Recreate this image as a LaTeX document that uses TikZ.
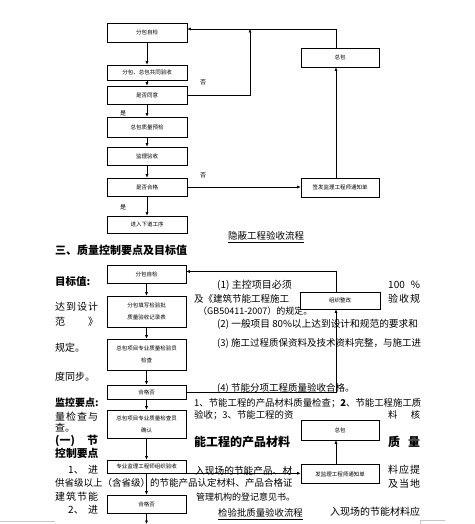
\documentclass[tikz,border=0pt]{standalone}
\usepackage{fontspec}
\setmainfont{Noto Sans CJK SC}
\usetikzlibrary{arrows.meta,calc}
\newcommand\myfs[1]{\fontsize{#1}{#1}\selectfont}
\begin{document}
\begin{tikzpicture}[x=1pt,y=-1pt,
  box/.style={draw=black, line width=0.6pt, fill=white, inner sep=0pt, align=center,
    font=\fontsize{5.5}{8}\selectfont, minimum width=80pt},
  conn/.style={draw=black, line width=0.6pt},
  arr/.style={conn, -{Latex[length=3.5pt,width=3pt]}},
  lbl/.style={inner sep=0pt, font=\myfs{6}},
  txt/.style={anchor=west, inner sep=0pt, font=\myfs{10}},
]
\useasboundingbox (0,0) rectangle (474,524);
\fill[white] (0,0) rectangle (474,524);

% ---------- texts ----------
\node[txt, font=\myfs{9.5}] (cap1) at (228,237) {\underline{隐蔽工程验收流程}};
\node[txt, font=\bfseries\myfs{11}] (head) at (55,250) {三、质量控制要点及目标值};

\node[txt, font=\bfseries\myfs{10.5}] (l1) at (55,282) {目标值:};
\node[txt] (l2) at (55,307) {\makebox[43pt][s]{达\hfill 到\hfill 设\hfill 计}};
\node[txt] (l3) at (55,322) {\makebox[43pt][s]{范\hfill 》}};
\node[txt] (l4) at (55,348) {规定。};
\node[txt] (l5) at (55,377) {度同步。};
\node[txt, font=\bfseries\myfs{10}] (l6) at (55,403) {监控要点:};
\node[txt] (l7) at (55,417) {\makebox[43pt][s]{量\hfill 检\hfill 查\hfill 与}};
\node[txt] (l8) at (55,428) {查。};
\node[txt, font=\bfseries\myfs{11}] (l9) at (55,441) {\makebox[43pt][s]{(一)\hfill 节}};
\node[txt, font=\bfseries\myfs{10.8}] (l10) at (55,453) {控制要点};
\node[txt] (l11) at (68,470) {\makebox[30pt][s]{1、\hfill 进}};
\node[txt, font=\myfs{9.5}] (l12) at (55,483) {供省级以上（含省级）的节能产品认定材料、产品合格证};
\node[txt] (l13) at (55,497) {\makebox[43pt][s]{建\hfill 筑\hfill 节\hfill 能}};
\node[txt] (l14) at (68,510) {\makebox[30pt][s]{2、\hfill 进}};

\node[txt] (m1) at (217,285) {(1) 主控项目必须};
\node[txt] (m2) at (388,285) {\makebox[32pt][s]{100\hfill \%}};
\node[txt, font=\myfs{9.5}] (m3) at (194,299) {及《建筑节能工程施工};
\node[txt] (m4) at (388,299) {\makebox[32pt][s]{验\hfill 收\hfill 规}};
\node[txt, font=\myfs{9}] (m5) at (198,311) {（GB50411-2007）的规定。};
\node[txt, font=\myfs{9.7}] (m6) at (217,324) {(2) 一般项目 80\%以上达到设计和规范的要求和};
\node[txt, font=\myfs{9.5}] (m7) at (217,343) {(3) 施工过程质保资料及技术资料完整，与施工进};
\node[txt, font=\myfs{9.5}] (m8) at (217,388) {(4) 节能分项工程质量验收合格。};
\node[txt, font=\myfs{9.4}] (m9) at (194,403) {1、节能工程的产品材料质量检查；\textbf{2}、节能工程施工质};
\node[txt, font=\myfs{9.4}] (m10) at (194,415) {验收；3、节能工程的资};
\node[txt, font=\myfs{9.4}] (m10b) at (388,415) {\makebox[32pt][s]{料\hfill 核}};
\node[txt, font=\bfseries\myfs{12}] (m11) at (194,442) {能工程的产品材料};
\node[txt, font=\bfseries\myfs{12}] (m11b) at (388,442) {\makebox[32pt][s]{质\hfill 量}};
\node[txt, font=\myfs{9.7}] (m12) at (195,471) {入现场的节能产品、材};
\node[txt] (m13) at (388,470) {\makebox[32pt][s]{料\hfill 应\hfill 提}};
\node[txt] (m14) at (388,484) {\makebox[32pt][s]{及\hfill 当\hfill 地}};
\node[txt, font=\myfs{9}] (m15) at (196,497) {管理机构的登记意见书。};
\node[txt, font=\myfs{9.4}] (cap2) at (218,514) {\underline{检验批质量验收流程}};
\node[txt] (m17) at (330,512) {入现场的节能材料应};

% ---------- top flowchart ----------
\node[box, minimum height=19pt] (b1) at (147,32.5) {分包自检};
\node[box, minimum height=15pt] (b2) at (147,72.5) {分包、总包共同验收};
\node[box, minimum height=18pt] (b3) at (147,95) {是否同意};
\node[box, minimum height=20pt] (b4) at (147,127) {总包质量预检};
\node[box, minimum height=18pt] (b5) at (147,156) {监理验收};
\node[box, minimum height=18pt] (b6) at (147,187) {是否合格};
\node[box, minimum height=17pt] (b7) at (147,224.5) {进入下道工序};
\node[box, minimum width=78pt, minimum height=19pt] (r1) at (340,57.5) {总包};
\node[box, minimum width=78pt, minimum height=19pt] (r2) at (340,187.5) {签发监理工程师通知单};

\foreach \a/\b in {b1/b2,b2/b3,b3/b4,b4/b5,b5/b6,b6/b7}
  \draw[arr] (\a) -- (\b);
\coordinate (t2) at (250,29);
\draw[arr] ([xshift=-4pt]r1.north) |- ([yshift=3.5pt]b1.east);
\draw[arr] (b3.east) -| (t2);
\draw[arr] (b6.east) -- (r2.west |- b6.east);
\draw[arr] ([xshift=-4pt]r2.north) -- ([xshift=-4pt]r1.south);

\node[lbl] (n1) at (203,82) {否};
\node[lbl] (y1) at (123,113) {是};
\node[lbl] (n2) at (203,175) {否};
\node[lbl] (y2) at (123,207) {是};

% ---------- second flowchart ----------
\node[box, minimum width=79pt, minimum height=18pt] (a) at (146.5,274) {分包自检};
\node[box, minimum width=79pt, minimum height=31pt] (b) at (146.5,311.5) {分包填写检验批\\[4pt]质量验收记录表};
\node[box, minimum width=79pt, minimum height=31pt] (c) at (146.5,354.5) {总包项目专业质量检验员\\[4pt]检查};
\node[box, minimum width=79pt, minimum height=14pt] (d) at (146.5,392) {合格否};
\node[box, minimum width=79pt, minimum height=28pt] (e) at (146.5,424) {总包项目专业质量检查员\\[4pt]确认};
\node[box, minimum width=79pt, minimum height=13pt] (f) at (146.5,466.5) {专业监理工程师组织验收};
\node[box, minimum width=79pt, minimum height=18pt] (g) at (146.5,504) {合格否};
\coordinate (gend) at (146.5,524);
\node[box, minimum width=80pt, minimum height=17pt] (r3) at (340,300.5) {组织整改};
\node[box, minimum width=78pt, minimum height=20pt] (r4) at (340,430) {总包};
\node[box, minimum width=78pt, minimum height=19pt] (r5) at (340,474) {发监理工程师通知单};

\foreach \a/\b in {a/b,b/c,c/d,d/e,e/f,f/g}
  \draw[arr] (\a) -- (\b);
\draw[arr] (g) -- (gend);
\draw[arr] (d.east) -| ([xshift=-4pt]r3.south);
\draw[arr] ([xshift=-4pt]r3.north) |- ([yshift=2.5pt]a.east);
\draw[arr] (f.south east) -- (r5.west |- f.south east);
\draw[arr] ([xshift=-4pt]r5.north) -- ([xshift=-4pt]r4.south);

% page corner marks
\draw[gray!45, line width=0.6pt] (0,521.5) -- (55,521.5);
\draw[gray!45, line width=0.6pt] (420,524) -- (420,520) -- (445,520);
\end{tikzpicture}
\end{document}
